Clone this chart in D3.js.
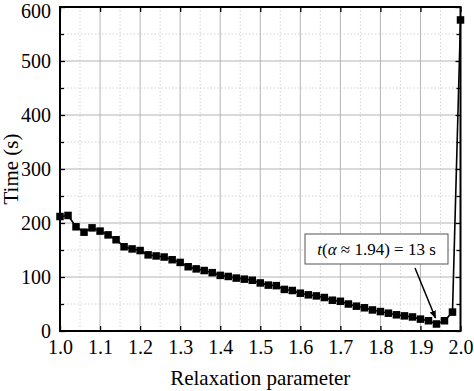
<!DOCTYPE html>
<html><head><meta charset="utf-8">
<script src="https://cdn.jsdelivr.net/npm/d3@7"></script>
<style>body{margin:0;background:#fff}svg text{font-family:"Liberation Serif","Times New Roman",Tinos,"DejaVu Serif",serif !important}</style>
</head><body><svg id="c" width="474" height="391"></svg>
<script>
const alphaValues = [1.00,1.02,1.04,1.06,1.08,1.10,1.12,1.14,1.16,1.18,1.20,1.22,1.24,1.26,1.28,1.30,1.32,1.34,1.36,1.38,1.40,1.42,1.44,1.46,1.48,1.50,1.52,1.54,1.56,1.58,1.60,1.62,1.64,1.66,1.68,1.70,1.72,1.74,1.76,1.78,1.80,1.82,1.84,1.86,1.88,1.90,1.92,1.94,1.96,1.98,2.00];
const timeValues = [212,214,193,183,191,185,178,169,156,152,149,141,139,137,132,127,119,115,112,108,103,101,98,96,94,89,85,84,77,75,70,67,65,62,57,55,50,46,43,39,36,33,30,28,26,22,19,13,19,35,576];
const xTicks = [1.0,1.1,1.2,1.3,1.4,1.5,1.6,1.7,1.8,1.9,2.0];
const yTicks = [0,100,200,300,400,500,600];
const xMinor = [1.05,1.15,1.25,1.35,1.45,1.55,1.65,1.75,1.85,1.95];
const yMinor = [50,150,250,350,450,550];
const xTitle = "Relaxation parameter";
const yTitle = "Time (s)";

const svg = d3.select("#c");
const L=60, R=460.5, T=7, B=331;
const x = d3.scaleLinear().domain([1,2]).range([L,R]);
const y = d3.scaleLinear().domain([0,600]).range([B,T]);

const g = svg.append("g");
g.selectAll(".gxm").data(xMinor).enter().append("line")
 .attr("x1",d=>x(d)).attr("x2",d=>x(d)).attr("y1",T).attr("y2",B)
 .attr("stroke","#d4d4d4").attr("stroke-width",1).attr("stroke-dasharray","1.5,2");
g.selectAll(".gym").data(yMinor).enter().append("line")
 .attr("y1",d=>y(d)).attr("y2",d=>y(d)).attr("x1",L).attr("x2",R)
 .attr("stroke","#d4d4d4").attr("stroke-width",1).attr("stroke-dasharray","1.5,2");
g.selectAll(".gx").data(xTicks.slice(1,-1)).enter().append("line")
 .attr("x1",d=>x(d)).attr("x2",d=>x(d)).attr("y1",T).attr("y2",B)
 .attr("stroke","#b4b4b4").attr("stroke-width",1);
g.selectAll(".gy").data(yTicks.slice(1,-1)).enter().append("line")
 .attr("y1",d=>y(d)).attr("y2",d=>y(d)).attr("x1",L).attr("x2",R)
 .attr("stroke","#b4b4b4").attr("stroke-width",1);

const data = alphaValues.map((a,i)=>({a,t:timeValues[i]}));
svg.append("path").datum(data)
 .attr("d", d3.line().x(d=>x(d.a)).y(d=>y(d.t)))
 .attr("fill","none").attr("stroke","#000").attr("stroke-width",1.6);
const ms=7.5;
svg.selectAll(".pt").data(data).enter().append("rect")
 .attr("x",d=>x(d.a)-ms/2).attr("y",d=>y(d.t)-ms/2).attr("width",ms).attr("height",ms).attr("fill","#000");

const fs = 20;
const ax = svg.append("g").attr("transform",`translate(0,${B})`)
 .call(d3.axisBottom(x).tickValues(xTicks).tickFormat(d3.format(".1f")).tickSizeInner(-5).tickSizeOuter(0).tickPadding(9));
const axT = svg.append("g").attr("transform",`translate(0,${T})`)
 .call(d3.axisTop(x).tickValues(xTicks).tickFormat("").tickSizeInner(-5).tickSizeOuter(0));
const ay = svg.append("g").attr("transform",`translate(${L},0)`)
 .call(d3.axisLeft(y).tickValues(yTicks).tickSizeInner(-5).tickSizeOuter(0).tickPadding(9));
const ayM = svg.append("g").attr("transform",`translate(${L},0)`)
 .call(d3.axisLeft(y).tickValues(yMinor).tickFormat("").tickSizeInner(-4).tickSizeOuter(0));
const ar = svg.append("g").attr("transform",`translate(${R},0)`)
 .call(d3.axisRight(y).tickValues(yTicks).tickFormat("").tickSizeInner(-5).tickSizeOuter(0));
const arM = svg.append("g").attr("transform",`translate(${R},0)`)
 .call(d3.axisRight(y).tickValues(yMinor).tickFormat("").tickSizeInner(-4).tickSizeOuter(0));
[ax,axT,ay,ayM,ar,arM].forEach(a=>{
  a.attr("font-family",null).attr("font-size",null);
  a.select(".domain").remove();
  a.selectAll("line").attr("stroke","#000").attr("stroke-width",1.3);
  a.selectAll("text").style("font-size",fs+"px").attr("fill","#000");
});
ax.selectAll("text").attr("dy","0.71em");
ay.selectAll("text").attr("dy","0.34em");
ay.selectAll("text").filter(d=>d===600).attr("dy","0.5em");
svg.append("rect").attr("x",L).attr("y",T).attr("width",R-L).attr("height",B-T)
 .attr("fill","none").attr("stroke","#000").attr("stroke-width",2);

svg.append("text").attr("x",(L+R)/2).attr("y",385).attr("text-anchor","middle")
 .style("font-size","21px").attr("fill","#000").text(xTitle);
svg.append("text").attr("transform",`translate(18,${(T+B)/2}) rotate(-90)`).attr("text-anchor","middle")
 .style("font-size","21px").attr("fill","#000").text(yTitle);

svg.append("rect").attr("x",305).attr("y",234).attr("width",143).attr("height",30)
 .attr("fill","#fff").attr("stroke","#555").attr("stroke-width",1);
const at = svg.append("text").attr("x",376.5).attr("y",255).attr("text-anchor","middle").style("font-size","17px").attr("fill","#000");
at.append("tspan").attr("font-style","italic").text("t");
at.append("tspan").text("(");
at.append("tspan").attr("font-style","italic").text("α");
at.append("tspan").text(" ≈ 1.94) = 13 s");
const defs = svg.append("defs");
defs.append("marker").attr("id","ah").attr("viewBox","0 0 10 10").attr("refX",9).attr("refY",5)
 .attr("markerWidth",8).attr("markerHeight",8).attr("orient","auto").attr("markerUnits","userSpaceOnUse")
 .append("path").attr("d","M0,1 L10,5 L0,9 z").attr("fill","#000");
const tip = data.find(d=>d.a===1.94);
svg.append("line").attr("x1",415).attr("y1",268).attr("x2",x(tip.a)-1).attr("y2",y(tip.t)-6)
 .attr("stroke","#000").attr("stroke-width",1.5).attr("marker-end","url(#ah)");
</script></body></html>
